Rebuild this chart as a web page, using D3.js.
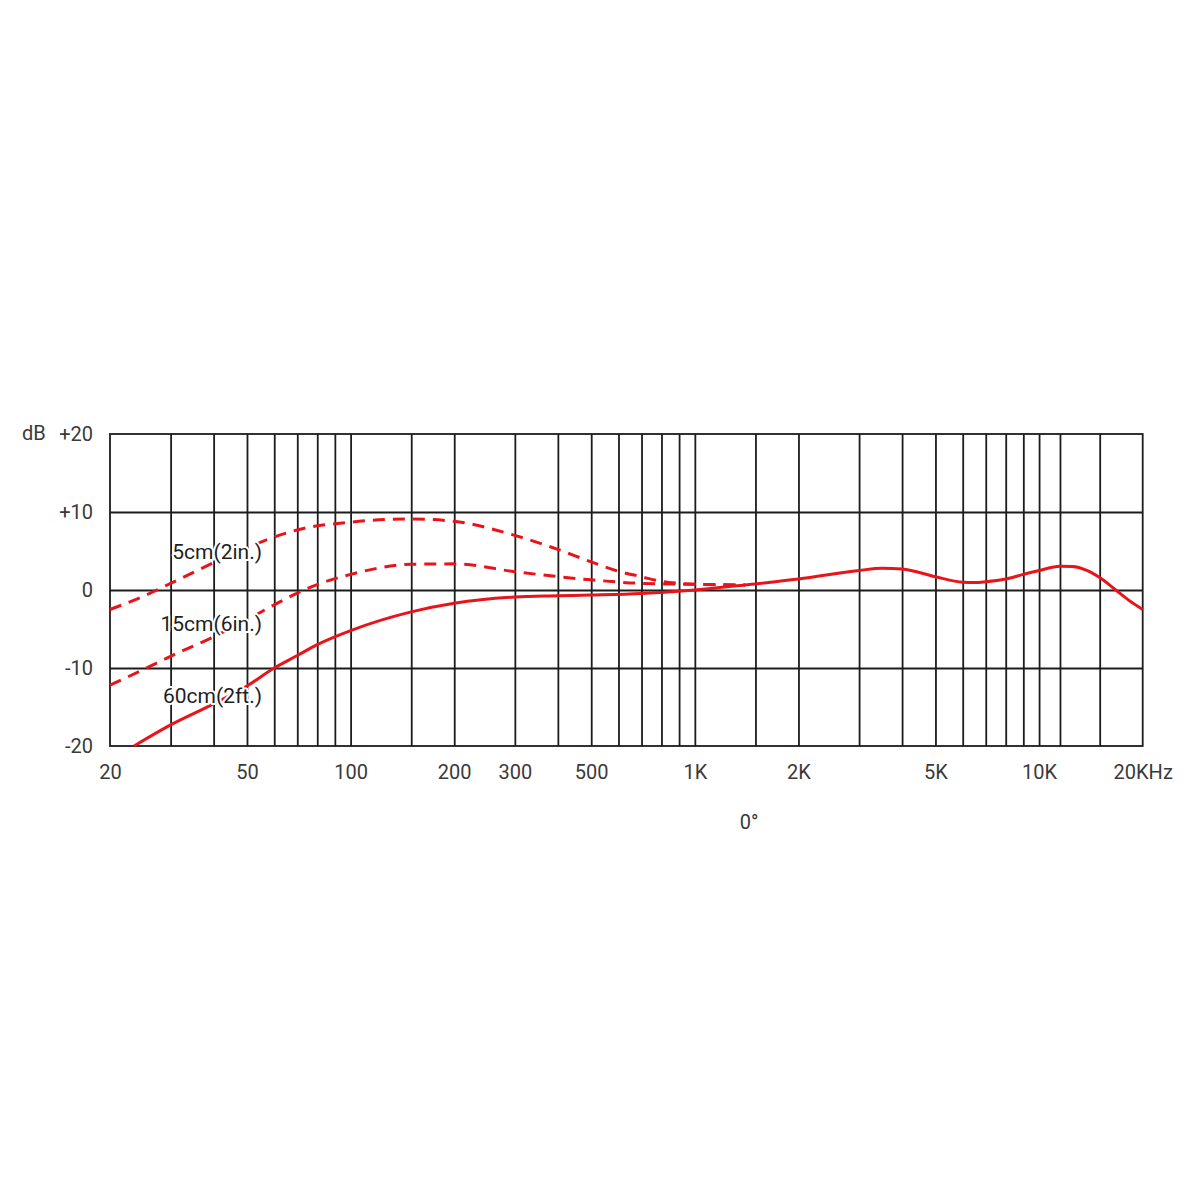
<!DOCTYPE html>
<html>
<head>
<meta charset="utf-8">
<script src="https://cdn.jsdelivr.net/npm/d3@7"></script>
<style>
  html, body { margin: 0; padding: 0; background: #ffffff; }
  svg { display: block; font-family: Roboto, "Noto Sans", sans-serif; }
</style>
</head>
<body>
<svg id="chart" width="1200" height="1200"></svg>
<script>
// ---- data ----
const freqDomain = [20, 20000];
const dbDomain = [-20, 20];
const gridFreqs = [30, 40, 50, 60, 70, 80, 90, 100, 150, 200, 300, 400, 500, 600, 700, 800, 900,
  1000, 1500, 2000, 3000, 4000, 5000, 6000, 7000, 8000, 9000, 10000, 11500, 15000];
const gridDb = [-10, 0, 10];
const xTickValues = [20, 50, 100, 200, 300, 500, 1000, 2000, 5000, 10000, 20000];
const xTickLabels = ["20", "50", "100", "200", "300", "500", "1K", "2K", "5K", "10K", "20KHz"];
const yTickValues = [20, 10, 0, -10, -20];
const yTickLabels = ["+20", "+10", "0", "-10", "-20"];

// 60cm (2ft.) – solid
const curve60cm = [
  [23.5, -20], [30, -17.3], [40, -14.6], [50, -12.3], [60, -10.0], [70, -8.4], [80, -7.0],
  [100, -5.2], [150, -2.8], [200, -1.7], [300, -0.9], [400, -0.75], [500, -0.65], [700, -0.45],
  [1000, 0], [1400, 0.65], [2000, 1.4], [3000, 2.5], [3500, 2.8], [4000, 2.7], [5000, 1.7],
  [6000, 1.0], [6500, 0.95], [7000, 1.05], [8000, 1.4], [9000, 2.0], [10000, 2.5], [11500, 3.05],
  [12500, 3.0], [13700, 2.55], [15000, 1.6], [16700, 0], [18200, -1.3], [20000, -2.5]
];
// 5cm (2in.) – dashed
const curve5cm = [
  [20, -2.5], [25, -0.8], [30, 0.85], [40, 3.5], [50, 5.4], [60, 6.8], [70, 7.7], [100, 8.7],
  [150, 9.1], [200, 8.8], [300, 7.0], [400, 5.2], [500, 3.6], [600, 2.4], [700, 1.7], [800, 1.1],
  [900, 0.85], [1000, 0.73], [1400, 0.64]
];
// 15cm (6in.) – dashed
const curve15cm = [
  [20, -12.2], [25, -10.2], [30, -8.5], [40, -6.0], [50, -3.8], [60, -1.9], [70, -0.4], [80, 0.7],
  [100, 2.0], [150, 3.3], [200, 3.35], [300, 2.35], [500, 1.3], [700, 0.85], [1000, 0.73], [1400, 0.64]
];
const curveLabels = ["5cm(2in.)", "15cm(6in.)", "60cm(2ft.)"];
const curveLabelDb = [4.9, -4.3, -13.6];

// ---- layout ----
const plotLeft = 110, plotRight = 1142.7, plotTop = 434, plotBottom = 746;
const svg = d3.select("#chart");
const x = d3.scaleLog().domain(freqDomain).range([plotLeft, plotRight]);
const y = d3.scaleLinear().domain(dbDomain).range([plotBottom, plotTop]);
const gridColor = "#1c1c1c";
const gridWidth = 1.8;
const red = "#e8141c";
const textColor = "#3a3a3a";

// vertical grid
const gx = svg.append("g").attr("transform", `translate(0,${plotBottom})`)
  .call(d3.axisBottom(x).tickValues(gridFreqs).tickSize(-(plotBottom - plotTop)).tickFormat(""));
gx.select(".domain").remove();
gx.selectAll("line").attr("stroke", gridColor).attr("stroke-width", gridWidth);

// horizontal grid
const gy = svg.append("g").attr("transform", `translate(${plotLeft},0)`)
  .call(d3.axisLeft(y).tickValues(gridDb).tickSize(-(plotRight - plotLeft)).tickFormat(""));
gy.select(".domain").remove();
gy.selectAll("line").attr("stroke", gridColor).attr("stroke-width", gridWidth);

// frame
svg.append("rect").attr("x", x(20)).attr("y", y(20))
  .attr("width", x(20000) - x(20)).attr("height", y(-20) - y(20))
  .attr("fill", "none").attr("stroke", gridColor).attr("stroke-width", gridWidth);

// x tick labels
const ax = svg.append("g").attr("transform", `translate(0,${plotBottom})`)
  .call(d3.axisBottom(x).tickValues(xTickValues).tickSize(0).tickPadding(19)
    .tickFormat((d, i) => xTickLabels[i]));
ax.select(".domain").remove();
ax.selectAll("text").attr("font-size", 20).attr("fill", textColor)
  .attr("font-family", "Roboto, 'Noto Sans', sans-serif");

// y tick labels
const ay = svg.append("g").attr("transform", `translate(${plotLeft},0)`)
  .call(d3.axisLeft(y).tickValues(yTickValues).tickSize(0).tickPadding(17)
    .tickFormat((d, i) => yTickLabels[i]));
ay.select(".domain").remove();
ay.selectAll("text").attr("font-size", 20).attr("fill", textColor)
  .attr("font-family", "Roboto, 'Noto Sans', sans-serif");

svg.append("text").attr("x", 22).attr("y", y(20)).attr("dy", "0.32em")
  .attr("font-size", 20).attr("fill", textColor).text("dB");

// curves
const line = d3.line().x(d => x(d[0])).y(d => y(d[1])).curve(d3.curveMonotoneX);
svg.append("path").datum(curve5cm).attr("d", line).attr("fill", "none")
  .attr("stroke", red).attr("stroke-width", 3).attr("stroke-dasharray", "12,8");
svg.append("path").datum(curve15cm).attr("d", line).attr("fill", "none")
  .attr("stroke", red).attr("stroke-width", 3).attr("stroke-dasharray", "12,8");
svg.append("path").datum(curve60cm).attr("d", line).attr("fill", "none")
  .attr("stroke", red).attr("stroke-width", 3);

// curve labels
svg.append("g").selectAll("text").data(curveLabels).join("text")
  .attr("x", 262).attr("y", (d, i) => y(curveLabelDb[i])).attr("dy", "0.35em")
  .attr("text-anchor", "end").attr("font-size", 21).attr("fill", "#1e1e1e")
  .attr("stroke", "#fff").attr("stroke-width", 4).attr("paint-order", "stroke")
  .attr("stroke-linejoin", "round")
  .text(d => d);

// angle label
svg.append("text").attr("x", 749).attr("y", 822).attr("dy", "0.35em")
  .attr("text-anchor", "middle").attr("font-size", 20).attr("fill", textColor).text("0°");
</script>
</body>
</html>
